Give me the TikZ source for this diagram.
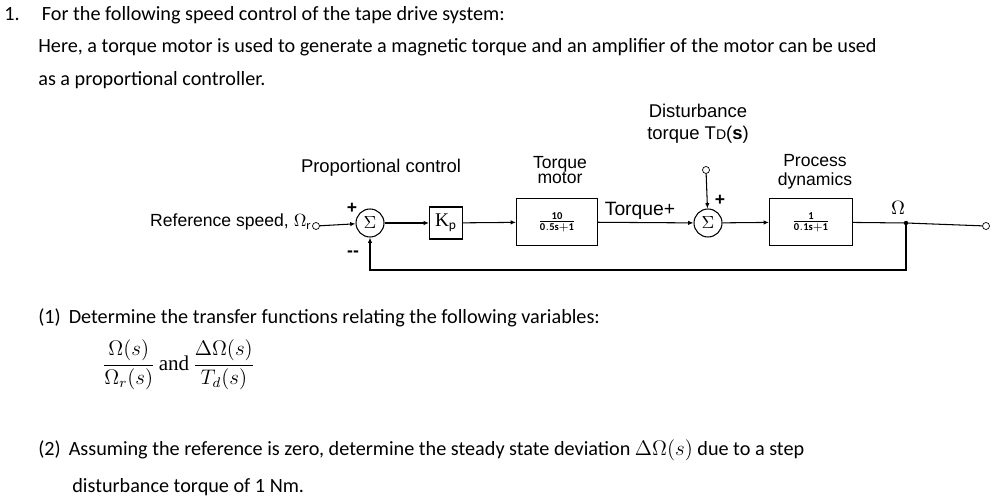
\documentclass[tikz,border=0pt]{standalone}
\usepackage{fontspec}
\setmainfont{Carlito}
\newfontfamily\arialf{Liberation Sans}
\newfontfamily\timesf{Liberation Serif}
\usetikzlibrary{arrows.meta}
\begin{document}
\begin{tikzpicture}[x=0.02cm,y=-0.02cm,
  txt/.style={anchor=west,inner sep=0pt,font=\fontsize{11.5}{13}\selectfont},
  lab/.style={align=center,inner sep=0pt,font=\arialf\fontsize{10}{10.5}\selectfont},
  blk/.style={draw,line width=0.6pt,minimum width=#1,inner sep=0pt},
  sum/.style={draw,circle,line width=0.6pt,minimum size=28*0.02cm,inner sep=0pt,font=\timesf\bfseries},
  port/.style={draw,circle,minimum size=7*0.02cm,inner sep=0pt},
  sig/.style={line width=0.6pt,-{Latex[length=3pt,width=2.5pt]}},
  ln/.style={line width=0.6pt}]
\useasboundingbox (0,0) rectangle (1000,502);
\node[txt] (l1) at (4,15) {1.\hspace{1.1em}For the following speed control of the tape drive system:};
\node[txt] (l2) at (38,47) {Here, a torque motor is used to generate a magnetic torque and an amplifier of the motor can be used};
\node[txt] (l3) at (38,80) {as a proportional controller.};

\node[port] (in) at (316,226) {};
\node[lab,anchor=east] (reft) at (312,222) {Reference speed, \timesf$\Omega_{\mathrm r}$};
\node[sum] (s1) at (370,223) {$\Sigma$};
\node[blk=33*0.02cm,minimum height=32*0.02cm,font=\timesf\fontsize{11}{11}\selectfont] (kp) at (446,223) {K$_{\mathrm p}$};
\node[blk=81*0.02cm,minimum height=47*0.02cm,font=\timesf\bfseries\fontsize{8}{9}\selectfont] (tm) at (557,222) {$\frac{\mathbf{10}}{\mathbf{0.5s+1}}$};
\node[sum] (s2) at (708,223) {$\Sigma$};
\node[port] (dist) at (706,170) {};
\node[blk=83*0.02cm,minimum height=47*0.02cm,font=\timesf\bfseries\fontsize{8}{9}\selectfont] (pd) at (811,222) {$\frac{\mathbf{1}}{\mathbf{0.1s+1}}$};
\coordinate (br) at (906,223);
\node[port] (out) at (986,226) {};
\coordinate (fb1) at (906,270);
\coordinate (fb2) at (370,270);

\draw[sig] (in) -- (s1);
\draw[sig] (s1) -- (kp);
\draw[sig] (kp) -- (tm);
\draw[sig] (tm) -- (s2);
\draw[sig] (dist) -- (s2);
\draw[sig] (s2) -- (pd);
\draw[ln] (pd) -- (br) -- (out);
\fill (br) circle (2.2);
\draw[sig] (br) -- (fb1) -- (fb2) -- (s1);

\node[lab] (pm1) at (352,208) {\bfseries +};
\node[lab] (pm2) at (353,254) {\bfseries --};
\node[lab] (pm3) at (720,200) {\bfseries +};
\node[lab,font=\arialf\fontsize{11}{12}\selectfont] (tq) at (640,211) {Torque+};
\node[lab,font=\timesf\fontsize{11}{12}\selectfont] (om) at (898,208) {$\Omega$};
\node[lab,font=\arialf\fontsize{10.5}{11}\selectfont] (pc) at (381,168) {Proportional control};
\node[lab] (tml) at (560,170) {Torque\\[-2pt]motor};
\node[lab,font=\arialf\fontsize{10.5}{12.5}\selectfont] (dl) at (698,124) {Disturbance\\torque T{\fontsize{8}{8}\selectfont D}(\textbf{s})};
\node[lab] (pdl) at (815,172) {Process\\dynamics};

\node[txt] (q1) at (38,318) {(1)\, Determine the transfer functions relating the following variables:};
\node[anchor=west,inner sep=0pt,font=\timesf\fontsize{12}{13}\selectfont] (fr) at (102,365)
  {$\displaystyle\frac{\Omega(s)}{\Omega_r(s)}$\,and\,$\displaystyle\frac{\Delta\Omega(s)}{T_d(s)}$};
\node[txt] (q2) at (38,450) {(2)\, Assuming the reference is zero, determine the steady state deviation {\timesf$\Delta\Omega(s)$} due to a step};
\node[txt] (q3) at (72,487) {disturbance torque of 1 Nm.};
\end{tikzpicture}
\end{document}
